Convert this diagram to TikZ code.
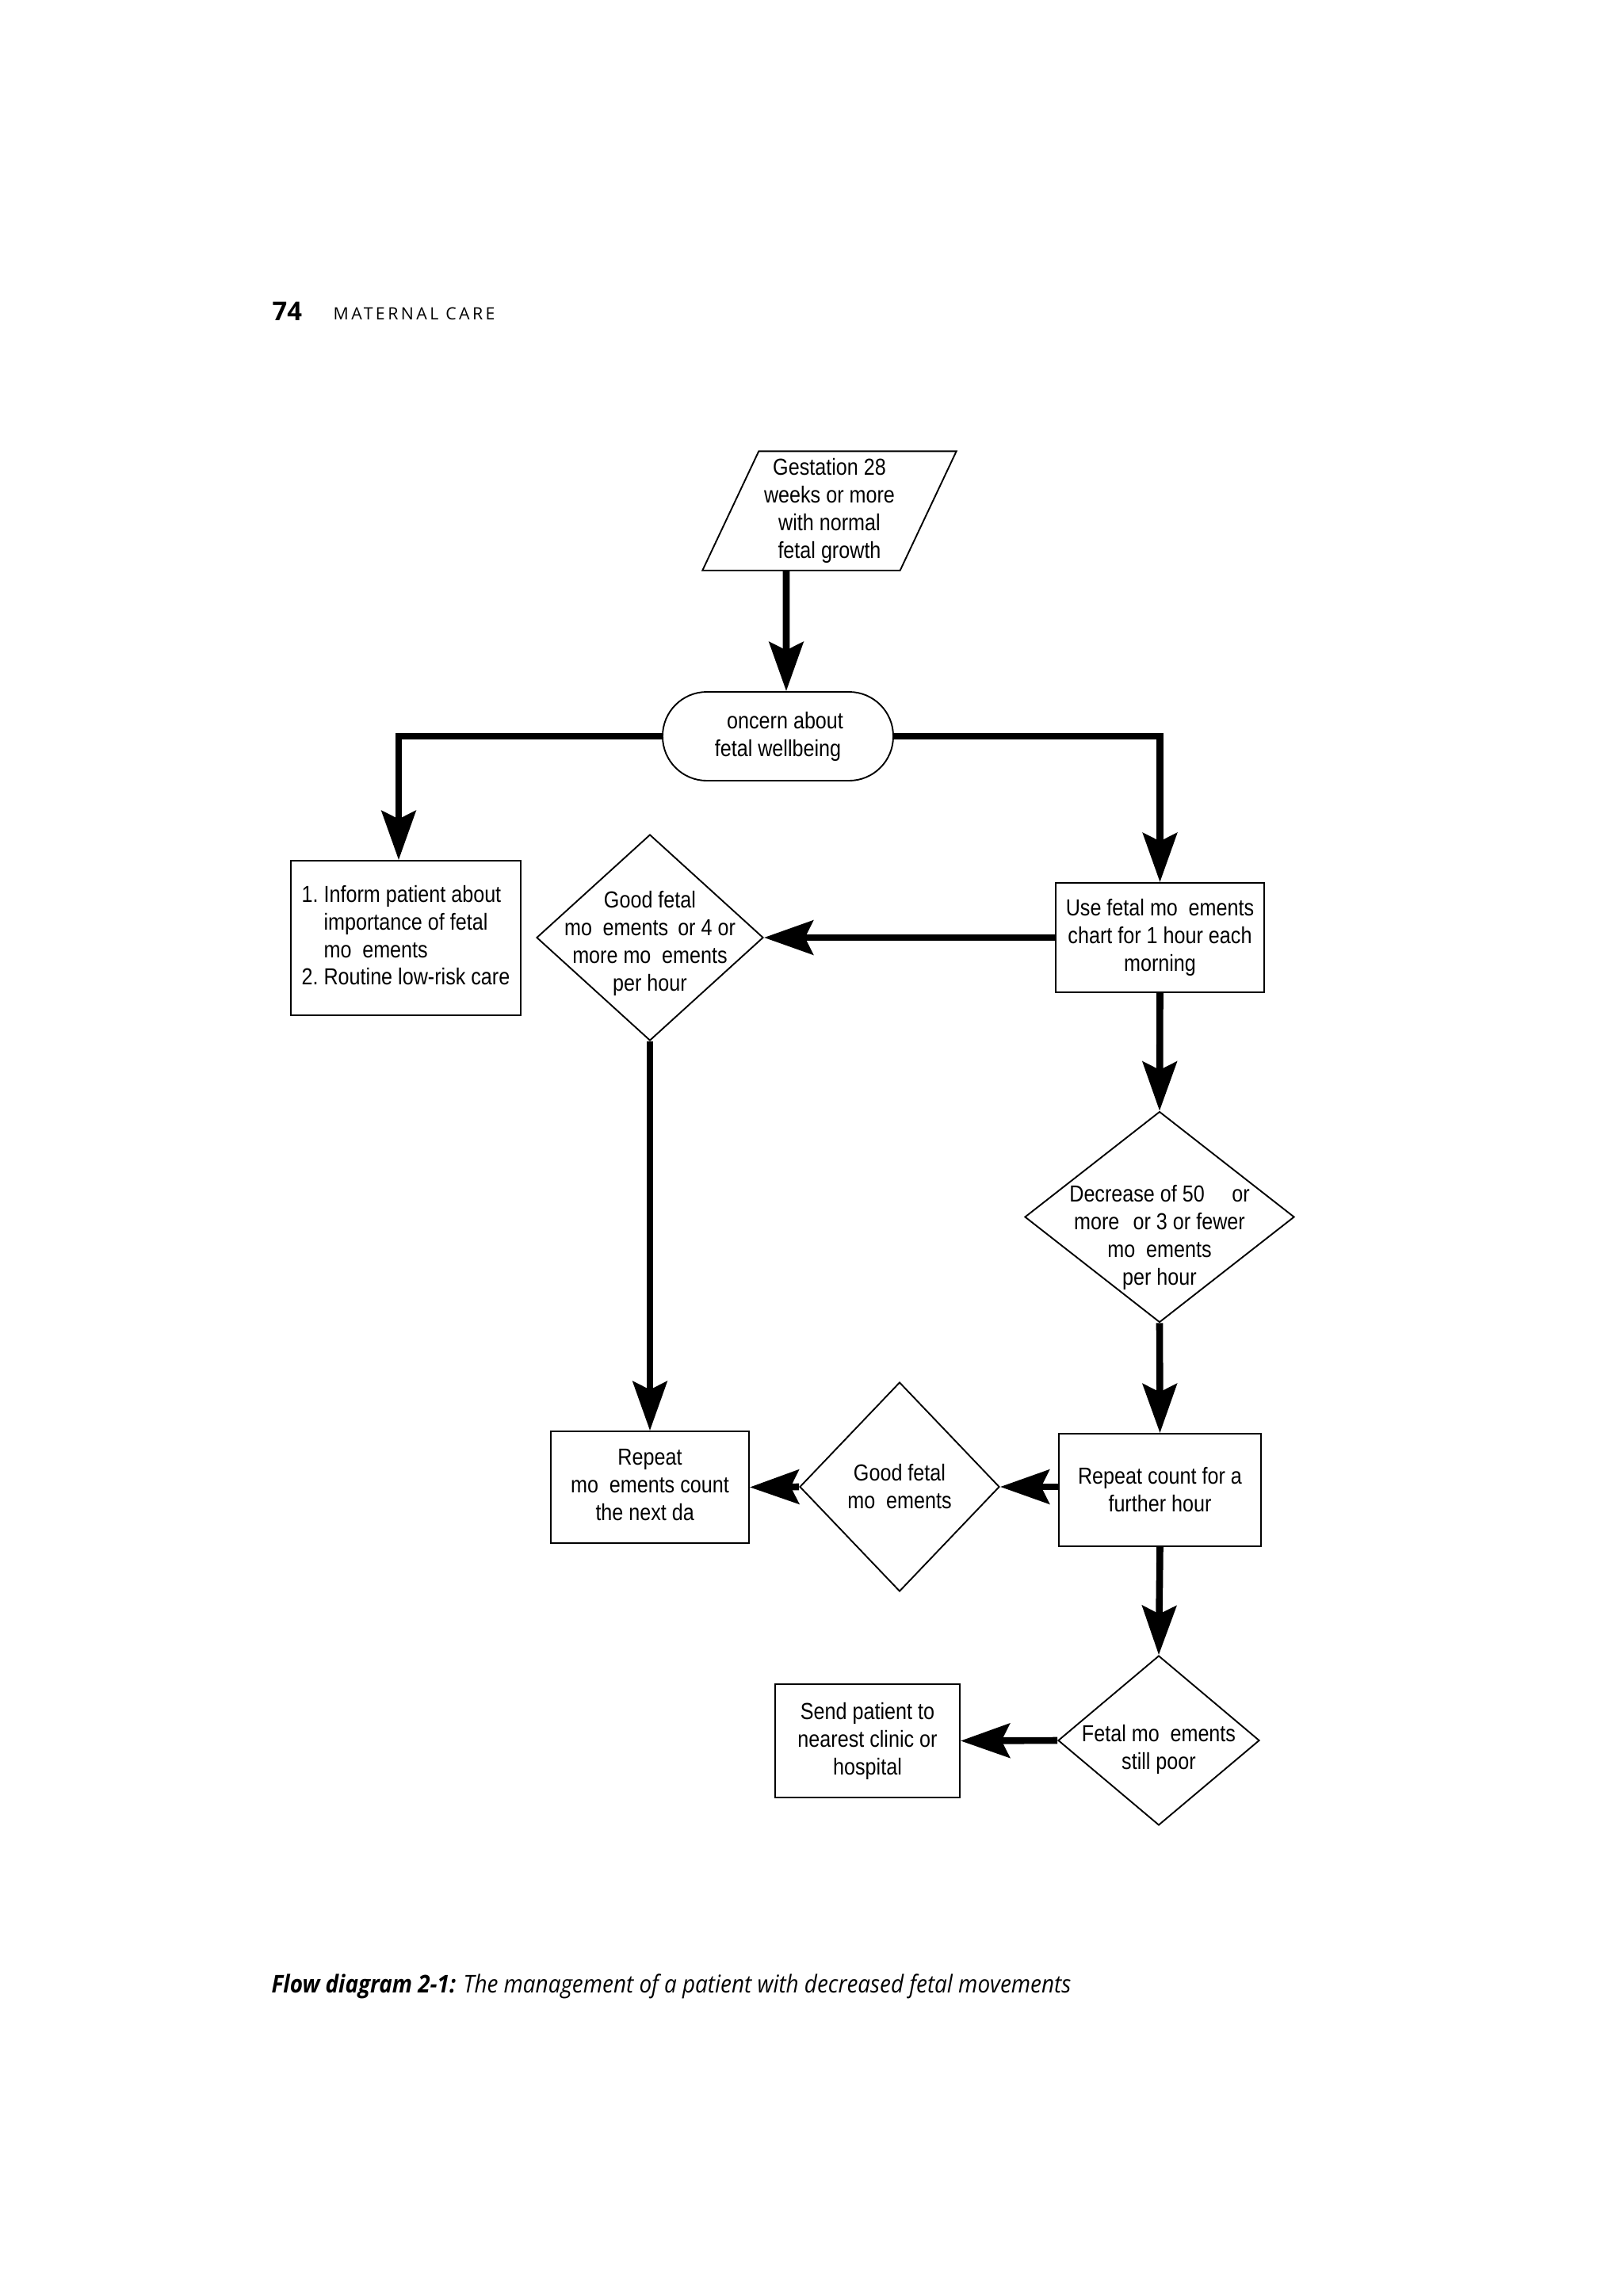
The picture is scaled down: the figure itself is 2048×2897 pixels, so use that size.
\documentclass[tikz,border=0pt]{standalone}
\usepackage{fontspec}
\setmainfont{Liberation Sans}[FakeStretch=0.86]
\newfontfamily\hdfont{Open Sans}
\newfontfamily\capfont{Open Sans}[FakeStretch=0.9]
\usetikzlibrary{arrows.meta,shapes.geometric,calc}
\newlength{\pxu}\setlength{\pxu}{0.29066pt}
\newcommand{\gv}{\hspace{4pt}}
\begin{document}
\begin{tikzpicture}[x=0.29066pt,y=-0.29066pt,
  every node/.style={font=\fontsize{8.5}{10.17}\selectfont, inner sep=0pt},
  box/.style={draw, line width=0.55pt, rectangle, align=center},
  dia/.style={draw, line width=0.55pt, diamond, inner sep=0pt},
  lbl/.style={align=center, font=\fontsize{8.5}{10.17}\selectfont},
  arr/.style={line width=2.5pt, -{Stealth[length=18pt,width=12.5pt,inset=3pt]}}
]
\useasboundingbox (0,0) rectangle (2048,2897);

% header
\node[anchor=base west, font=\hdfont\bfseries\fontsize{9.5}{11}\selectfont] (pg) at (343,404) {74};
\node[anchor=base west, font=\hdfont\fontsize{6.2}{8}\selectfont\addfontfeature{LetterSpace=16}] (hd) at (420,403) {MATERNAL CARE};

% start parallelogram
\node[minimum width=248\pxu, minimum height=149\pxu, align=center] (start) at (1046.5,644.5) {Gestation 28\\weeks or more\\with normal\\fetal growth};
\draw[line width=0.55pt] ([xshift=-35.5\pxu]start.south west) -- ([xshift=-35.5\pxu]start.south east) -- ([xshift=35.5\pxu]start.north east) -- ([xshift=35.5\pxu]start.north west) -- cycle;

% terminal
\node[box, rounded corners=16.2pt, minimum width=291\pxu, minimum height=112\pxu] (term) at (981.5,929) {\phantom{C}oncern about\\fetal wellbeing};

% boxes
\node[box, minimum width=290\pxu, minimum height=195\pxu] (inform) at (512,1183.5) {\begin{tabular}{@{}l@{\ }l@{}}1.&Inform patient about\\&importance of fetal\\&mo\gv ements\\2.&Routine low-risk care\end{tabular}};
\node[box, minimum width=263\pxu, minimum height=138\pxu] (use) at (1463.5,1183) {Use fetal mo\gv ements\\chart for 1 hour each\\morning};
\node[box, minimum width=250\pxu, minimum height=141\pxu] (rep) at (820,1876.5) {Repeat\\mo\gv ements count\\the next da\phantom{y}};
\node[box, minimum width=255\pxu, minimum height=142\pxu] (rc) at (1463.5,1880) {Repeat count for a\\further hour};
\node[box, minimum width=233\pxu, minimum height=143\pxu] (send) at (1094.5,2196.5) {Send patient to\\nearest clinic or\\hospital};

% diamonds
\node[dia, minimum width=286\pxu, minimum height=260\pxu, label={[lbl, yshift=-7\pxu]center:{Good fetal\\mo\gv ements\hspace{3.5pt}or 4 or\\more mo\gv ements\\per hour}}] (gm1) at (820,1183) {};
\node[dia, minimum width=340\pxu, minimum height=266\pxu, label={[lbl, yshift=-26\pxu]center:{Decrease of 50\hspace{10pt}or\\more\hspace{5pt}or 3 or fewer\\mo\gv ements\\per hour}}] (dec) at (1463,1535.5) {};
\node[dia, minimum width=252\pxu, minimum height=264\pxu, label={[lbl]center:{Good fetal\\mo\gv ements}}] (gm2) at (1135,1876) {};
\node[dia, minimum width=254\pxu, minimum height=214\pxu, label={[lbl, yshift=-11\pxu]center:{Fetal mo\gv ements\\still poor}}] (poor) at (1462,2196) {};

% connectors
\draw[arr] ([xshift=-54.5\pxu]start.south) -- ([xshift=10.5\pxu]term.north);
\draw[arr] (term.west) -| ([xshift=-9\pxu]inform.north);
\draw[arr] (term.east) -| (use.north);
\draw[arr] (use.west) -- (gm1.east);
\draw[arr] (gm1.south) -- (rep.north);
\draw[arr] (use.south) -- (dec.north);
\draw[arr] (dec.south) -- (rc.north);
\draw[arr] (rc.west |- gm2.east) -- (gm2.east);
\draw[arr] (gm2.west) -- (rep.east);
\draw[arr] (rc.south) -- (poor.north);
\draw[arr] (poor.west) -- (send.east);

% caption
\node[anchor=base west, font=\capfont\itshape\fontsize{9}{10.5}\selectfont] (cap) at (342,2514) {\textbf{Flow diagram 2-1:} The management of a patient with decreased fetal movements};
\end{tikzpicture}
\end{document}
